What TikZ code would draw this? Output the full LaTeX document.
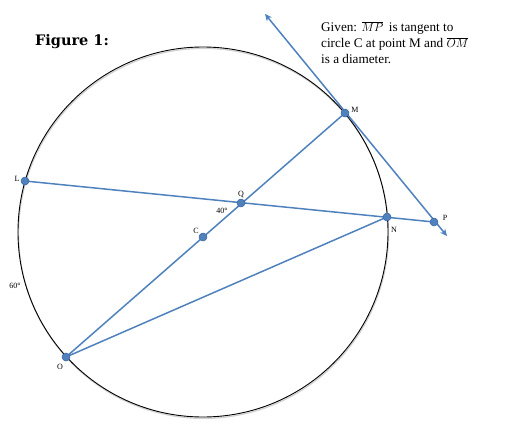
\documentclass[tikz,border=0pt]{standalone}
\usepackage{fontspec}
\setmainfont{Liberation Serif}
\newfontfamily\figfont{DejaVu Serif}
\usetikzlibrary{arrows.meta}
\definecolor{lineblue}{RGB}{79,129,189}
\definecolor{dotedge}{RGB}{60,100,160}
\pgfdeclarelayer{bg}
\pgfsetlayers{bg,main}
\begin{document}
\begin{tikzpicture}[x=1pt,y=-1pt,
  pt/.style={circle,fill=lineblue,draw=dotedge,line width=0.5pt,inner sep=0pt,minimum size=8pt},
  seg/.style={draw=lineblue,line width=1.5pt},
  lbl/.style={inner sep=0pt,font=\fontsize{8}{9}\selectfont},
  given/.style={inner sep=0pt,align=left,anchor=north west,font=\fontsize{13.2}{16}\selectfont}]
\useasboundingbox (0,0) rectangle (531,434);
% circle with faint shadow
\begin{pgfonlayer}{bg}
\draw[black!18,line width=1.2pt] (203.6,233.4) circle[radius=185];
\draw[black,line width=0.9pt] (203,232) circle[radius=185];
\end{pgfonlayer}
% points
\coordinate (T1) at (265,14);
\coordinate (T2) at (447,236);
\node[pt] (L) at (25,181) {};
\node[pt] (Q) at (241,203) {};
\node[pt] (C) at (203,237) {};
\node[pt] (M) at (345,113) {};
\node[pt] (N) at (387,217) {};
\node[pt] (P) at (434,222) {};
\node[pt] (O) at (66,357) {};
% segments
\begin{pgfonlayer}{bg}
\draw[seg] (L.center) -- (P.center);
\draw[seg] (O.center) -- (M.center);
\draw[seg] (O.center) -- (N.center);
\draw[seg,{Stealth[length=7pt,width=6.5pt]}-{Stealth[length=7pt,width=6.5pt]}] (T1) -- (T2);
\end{pgfonlayer}
% labels
\node[lbl] (lL) at (17,179) {L};
\node[lbl] (lQ) at (241,194) {Q};
\node[lbl] (l40) at (222,211) {40°};
\node[lbl] (lC) at (196,231) {C};
\node[lbl] (lM) at (355,110) {M};
\node[lbl] (lN) at (394,230) {N};
\node[lbl] (lP) at (445,218) {P};
\node[lbl] (lO) at (60,367) {O};
\node[lbl] (l60) at (15,286) {60°};
\node[inner sep=0pt,font=\figfont\fontsize{14.5}{18}\bfseries\selectfont] (fig) at (72,42) {Figure 1:};
\node[given] (g) at (321,21) {Given: $\overline{MP}$\, is tangent to\\circle C at point M and $\overline{OM}$\\is a diameter.};
\end{tikzpicture}
\end{document}
